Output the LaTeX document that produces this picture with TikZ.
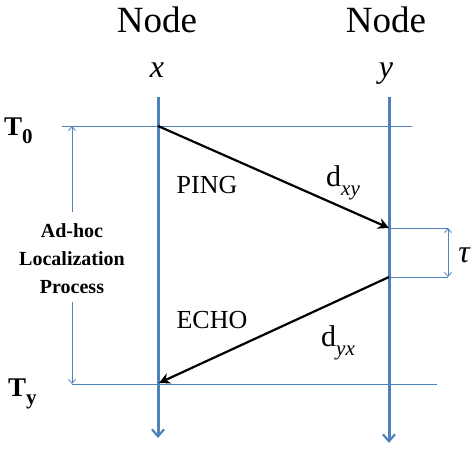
\documentclass[tikz,border=0pt]{standalone}
\usepackage{fontspec}
\setmainfont{Liberation Serif}
\usetikzlibrary{arrows.meta}
\definecolor{lblue}{RGB}{79,129,189}
\newcommand{\lowsub}[1]{\raisebox{-0.3em}{\fontsize{21}{22}\selectfont #1}}
\begin{document}
\begin{tikzpicture}[x=1pt,y=-1pt,
  tl/.style={lblue,line width=3pt,-{Straight Barb[length=7pt,width=12pt,line width=2.2pt]}},
  guide/.style={lblue,line width=0.8pt},
  barb/.style={-{Straight Barb[length=4pt,width=7pt]}},
  dim/.style={lblue,line width=0.8pt,{Straight Barb[length=4pt,width=7pt]}-{Straight Barb[length=4pt,width=7pt]}},
  msg/.style={black,line width=2.2pt,-{Stealth[length=11pt,width=11pt]}},
  head/.style={font=\fontsize{37}{40}\selectfont,inner sep=0pt,anchor=base},
  var/.style={font=\fontsize{32}{36}\selectfont\itshape,inner sep=0pt,anchor=base},
  big/.style={font=\fontsize{30}{32}\selectfont,inner sep=0pt,anchor=base west},
  mid/.style={font=\fontsize{26}{28}\selectfont,inner sep=0pt}]
\useasboundingbox (0,0) rectangle (474,450);
% node headers
\node[head] (nx) at (157,32) {Node};
\node[head] (ny) at (386,32) {Node};
\node[var] (lx) at (157,77) {x};
\node[var] (ly) at (386,77) {y};
% timelines
\coordinate (xt) at (158,97);
\coordinate (xb) at (158,438);
\coordinate (yt) at (389,97);
\coordinate (yb) at (389,443);
% guides
\coordinate (g0l) at (62,126);
\coordinate (g0r) at (412,126);
\coordinate (gyl) at (72,384);
\coordinate (gyr) at (437,384);
\draw[guide] (g0l) -- (g0r);
\draw[guide] (gyl) -- (gyr);
\coordinate (ta) at (389,228);
\coordinate (tb) at (389,277);
\coordinate (tar) at (448,228);
\coordinate (tbr) at (448,277);
\draw[guide] (ta) -- (tar);
\draw[guide] (tb) -- (tbr);
\draw[dim] (tar) -- (tbr);
\node[font=\fontsize{32}{34}\selectfont\itshape,inner sep=0pt,anchor=base] (tau) at (464,262) {τ};
% process dimension
\coordinate (p0) at (72,126);
\coordinate (p1) at (72,384);
\coordinate (pa) at (72,212);
\coordinate (pb) at (72,302);
\node[font=\fontsize{20}{28}\selectfont\bfseries,align=center,inner sep=2pt] (proc) at (72,259) {Ad-hoc\\Localization\\Process};
\draw[lblue,line width=0.8pt,barb] (pa) -- (p0);
\draw[lblue,line width=0.8pt,barb] (pb) -- (p1);
\node[font=\fontsize{27}{30}\selectfont\bfseries,inner sep=0pt,anchor=base west] (t0) at (4,135) {T\lowsub{\bfseries 0}};
\node[font=\fontsize{27}{30}\selectfont\bfseries,inner sep=0pt,anchor=base west] (ty) at (8,396) {T\lowsub{\bfseries y}};
% timelines drawn on top
\draw[tl] (xt) -- (xb);
\draw[tl] (yt) -- (yb);
% messages
\coordinate (ps) at (158,126);
\coordinate (pe) at (389,228);
\coordinate (es) at (389,277);
\coordinate (ee) at (159,383);
\draw[msg] (ps) -- (pe);
\draw[msg] (es) -- (ee);
\node[mid] (ping) at (207,185) {PING};
\node[mid] (echo) at (212,320) {ECHO};
\node[big] (dxy) at (326,186) {d\lowsub{\itshape xy}};
\node[big] (dyx) at (321,346) {d\lowsub{\itshape yx}};
\end{tikzpicture}
\end{document}
